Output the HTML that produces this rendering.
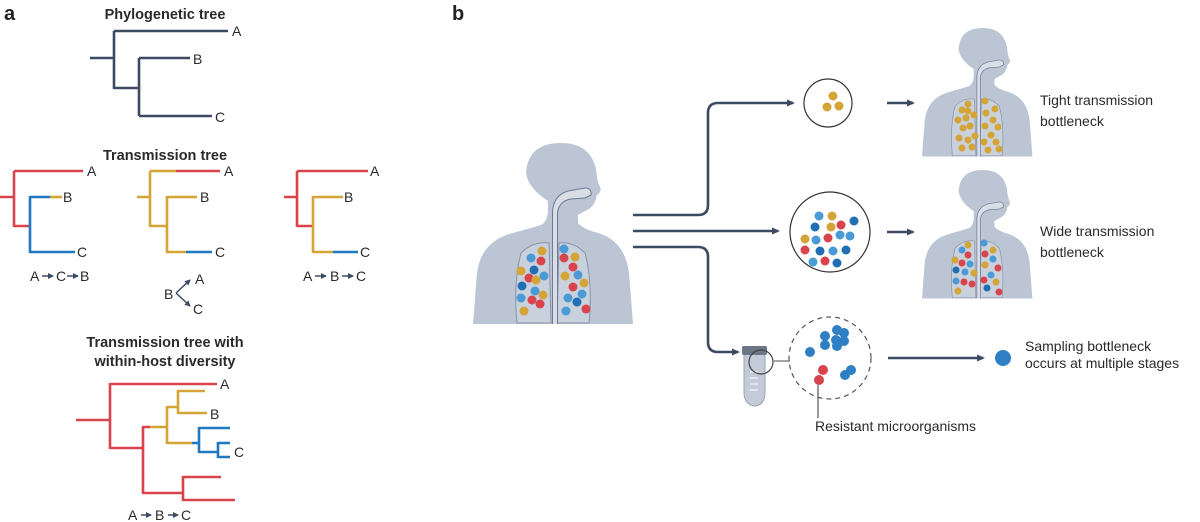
<!DOCTYPE html>
<html><head><meta charset="utf-8"><style>
html,body{margin:0;padding:0;background:#fff;}
svg{display:block;font-family:"Liberation Sans",sans-serif;}
.t{font-size:14px;fill:#2a2a2a;}
.h{font-size:14.5px;font-weight:bold;fill:#2a2a2a;}
.n{fill:none;stroke-width:2.6;stroke-linecap:butt;}
</style></head><body>
<svg width="1200" height="522" viewBox="0 0 1200 522">
<defs>
<marker id="ar" markerWidth="8" markerHeight="8" refX="6" refY="4" orient="auto" markerUnits="userSpaceOnUse"><path d="M0,0.5 L8,4 L0,7.5 Z" fill="#3d4a63"/></marker>
<marker id="as" markerWidth="6" markerHeight="6" refX="5" refY="3" orient="auto" markerUnits="userSpaceOnUse"><path d="M0,0 L6,3 L0,6 Z" fill="#3d4a63"/></marker>
<g id="person">
<path d="M0,181 L4,130 Q8,98 40,90 L68,82 Q75,78 75,66 L75,58 Q55,45 53,30 Q55,0 88,0 Q122,0 124,35 L126,42 Q130,48 124,52 Q122,62 116,66 Q108,70 105,72 L105,80 Q110,86 125,90 Q152,98 156,130 L160,181 Z" fill="#bcc5d3"/>
<path d="M44,180 Q40,140 48,110 Q60,98 76,100 L78,180 Z" fill="#c9d1dc" stroke="#8793a8" stroke-width="1"/>
<path d="M116,180 Q120,140 112,110 Q100,98 86,100 L84,180 Z" fill="#c9d1dc" stroke="#8793a8" stroke-width="1"/>
<path d="M79.5,181 L79.5,68 Q81,52 95,48 L112,45 Q119,45 118,52 L112,55 L98,56 Q86,58 84.5,70 L84.5,181" fill="#d8dde6" stroke="#6d7a92" stroke-width="1"/>
</g>
</defs>
<rect width="1200" height="522" fill="#fff"/>
<!-- panel a -->
<text x="4" y="20" style="font-size:20px;font-weight:bold" fill="#222">a</text>
<text x="165" y="19" class="h" text-anchor="middle">Phylogenetic tree</text>
<g class="n" stroke="#3d4a63">
<path d="M90,58 H114 M114,31 V89 M114,31 H228 M114,88 H139 M139,58 V116 M139,58 H190 M139,116 H212"/>
</g>
<text x="232" y="36" class="t">A</text><text x="193" y="64" class="t">B</text><text x="215" y="122" class="t">C</text>

<text x="165" y="160" class="h" text-anchor="middle">Transmission tree</text>
<!-- tree 1 -->
<g class="n">
<path stroke="#d9434b" d="M0,197 H14 M14,171 V227 M14,171 H83 M14,226 H30"/>
<path stroke="#1f78c1" d="M30,196 V253 M30,197 H50 M30,252 H75"/>
<path stroke="#d4a437" d="M50,197 H62"/>
</g>
<text x="87" y="176" class="t">A</text><text x="63" y="202" class="t">B</text><text x="77" y="257" class="t">C</text>
<text x="30" y="281" class="t">A</text><text x="56" y="281" class="t">C</text><text x="80" y="281" class="t">B</text>
<path d="M42,276 H53" stroke="#3d4a63" stroke-width="1.5" marker-end="url(#as)"/>
<path d="M67,276 H78" stroke="#3d4a63" stroke-width="1.5" marker-end="url(#as)"/>
<!-- tree 2 -->
<g class="n">
<path stroke="#d4a437" d="M137,197 H150 M150,171 V227 M150,171 H176 M150,226 H167 M167,196 V253 M167,197 H197 M167,252 H186"/>
<path stroke="#d9434b" d="M176,171 H220"/>
<path stroke="#1f78c1" d="M186,252 H212"/>
</g>
<text x="224" y="176" class="t">A</text><text x="200" y="202" class="t">B</text><text x="215" y="257" class="t">C</text>
<text x="164" y="299" class="t">B</text><text x="195" y="284" class="t">A</text><text x="193" y="314" class="t">C</text>
<path d="M176,293 L190,280" stroke="#3d4a63" stroke-width="1.5" fill="none" marker-end="url(#as)"/>
<path d="M176,293 L190,306" stroke="#3d4a63" stroke-width="1.5" fill="none" marker-end="url(#as)"/>
<!-- tree 3 -->
<g class="n">
<path stroke="#d9434b" d="M284,197 H297 M297,171 V227 M297,171 H368 M297,226 H313"/>
<path stroke="#d4a437" d="M313,196 V253 M313,197 H343 M313,252 H333"/>
<path stroke="#1f78c1" d="M333,252 H358"/>
</g>
<text x="370" y="176" class="t">A</text><text x="344" y="202" class="t">B</text><text x="360" y="257" class="t">C</text>
<text x="303" y="281" class="t">A</text><text x="330" y="281" class="t">B</text><text x="356" y="281" class="t">C</text>
<path d="M315,276 H326" stroke="#3d4a63" stroke-width="1.5" marker-end="url(#as)"/>
<path d="M342,276 H353" stroke="#3d4a63" stroke-width="1.5" marker-end="url(#as)"/>

<text x="165" y="347" class="h" text-anchor="middle">Transmission tree with</text>
<text x="165" y="366" class="h" text-anchor="middle">within-host diversity</text>
<g class="n">
<path stroke="#d9434b" d="M76,420 H110 M110,383 V449 M110,384 H217 M110,448 H143 M143,426 V494 M143,427 H150 M143,493 H183 M183,476 V501 M183,477 H221 M183,500 H235"/>
<path stroke="#d4a437" d="M150,427 H167 M167,406 V444 M167,407 H178 M178,390 V414 M178,391 H205 M178,413 H207 M167,443 H192"/>
<path stroke="#1f78c1" d="M192,443 H199 M199,427 V453 M199,428 H230 M199,452 H218 M218,442 V458 M218,443 H230 M218,457 H230"/>
</g>
<text x="220" y="389" class="t">A</text><text x="210" y="419" class="t">B</text><text x="234" y="457" class="t">C</text>
<text x="128" y="520" class="t">A</text><text x="155" y="520" class="t">B</text><text x="181" y="520" class="t">C</text>
<path d="M141,515 H151" stroke="#3d4a63" stroke-width="1.5" marker-end="url(#as)"/>
<path d="M168,515 H178" stroke="#3d4a63" stroke-width="1.5" marker-end="url(#as)"/>

<!-- panel b -->
<text x="452" y="20" style="font-size:20px;font-weight:bold" fill="#222">b</text>
<use href="#person" transform="translate(473,143)"/>
<g>
<circle cx="521" cy="271" r="4.5" fill="#d4a437"/><circle cx="531" cy="258" r="4.5" fill="#4a9ad6"/><circle cx="542" cy="251" r="4.5" fill="#d4a437"/><circle cx="541" cy="261" r="4.5" fill="#d9434b"/><circle cx="534" cy="270" r="4.5" fill="#1f6fb2"/><circle cx="529" cy="278" r="4.5" fill="#d9434b"/><circle cx="536" cy="280" r="4.5" fill="#d4a437"/><circle cx="544" cy="276" r="4.5" fill="#4a9ad6"/><circle cx="522" cy="286" r="4.5" fill="#1f6fb2"/><circle cx="535" cy="291" r="4.5" fill="#4a9ad6"/><circle cx="543" cy="295" r="4.5" fill="#d4a437"/><circle cx="521" cy="298" r="4.5" fill="#4a9ad6"/><circle cx="532" cy="300" r="4.5" fill="#d9434b"/><circle cx="540" cy="304" r="4.5" fill="#d9434b"/><circle cx="524" cy="311" r="4.5" fill="#d4a437"/>
<circle cx="564" cy="249" r="4.5" fill="#4a9ad6"/><circle cx="564" cy="258" r="4.5" fill="#d9434b"/><circle cx="575" cy="257" r="4.5" fill="#d4a437"/><circle cx="573" cy="267" r="4.5" fill="#d9434b"/><circle cx="565" cy="276" r="4.5" fill="#d4a437"/><circle cx="578" cy="275" r="4.5" fill="#4a9ad6"/><circle cx="573" cy="287" r="4.5" fill="#d9434b"/><circle cx="584" cy="283" r="4.5" fill="#d4a437"/><circle cx="582" cy="294" r="4.5" fill="#4a9ad6"/><circle cx="568" cy="298" r="4.5" fill="#4a9ad6"/><circle cx="577" cy="302" r="4.5" fill="#1f6fb2"/><circle cx="566" cy="311" r="4.5" fill="#4a9ad6"/><circle cx="586" cy="309" r="4.5" fill="#d9434b"/>
</g>
<g fill="none" stroke="#3d4a63" stroke-width="2.6">
<path d="M633,215 H698 Q708,215 708,205 V113 Q708,103 718,103 H793" marker-end="url(#ar)"/>
<path d="M633,231 H778" marker-end="url(#ar)"/>
<path d="M633,247 H698 Q708,247 708,257 V342 Q708,352 718,352 H738" marker-end="url(#ar)"/>
<path d="M887,103 H913" marker-end="url(#ar)"/>
<path d="M887,232 H913" marker-end="url(#ar)"/>
<path d="M888,358 H983" marker-end="url(#ar)"/>
</g>
<circle cx="828" cy="103" r="24" fill="#fff" stroke="#333" stroke-width="1.2"/>
<circle cx="833" cy="96" r="4.5" fill="#d4a437"/><circle cx="827" cy="107" r="4.5" fill="#d4a437"/><circle cx="839" cy="106" r="4.5" fill="#d4a437"/>
<circle cx="830" cy="232" r="40" fill="#fff" stroke="#333" stroke-width="1.2"/>
<g>
<circle cx="819" cy="216" r="4.5" fill="#4a9ad6"/><circle cx="832" cy="216" r="4.5" fill="#d4a437"/><circle cx="854" cy="221" r="4.5" fill="#1f6fb2"/><circle cx="815" cy="227" r="4.5" fill="#1f6fb2"/><circle cx="831" cy="227" r="4.5" fill="#d4a437"/><circle cx="841" cy="225" r="4.5" fill="#d9434b"/><circle cx="805" cy="239" r="4.5" fill="#d4a437"/><circle cx="816" cy="240" r="4.5" fill="#4a9ad6"/><circle cx="828" cy="238" r="4.5" fill="#d9434b"/><circle cx="840" cy="235" r="4.5" fill="#4a9ad6"/><circle cx="850" cy="236" r="4.5" fill="#4a9ad6"/><circle cx="805" cy="250" r="4.5" fill="#d9434b"/><circle cx="820" cy="251" r="4.5" fill="#1f6fb2"/><circle cx="833" cy="251" r="4.5" fill="#4a9ad6"/><circle cx="846" cy="250" r="4.5" fill="#1f6fb2"/><circle cx="813" cy="262" r="4.5" fill="#4a9ad6"/><circle cx="825" cy="261" r="4.5" fill="#d9434b"/><circle cx="837" cy="263" r="4.5" fill="#1f6fb2"/>
</g>
<use href="#person" transform="translate(922,28) scale(0.69,0.71)"/>
<g fill="#d4a437">
<circle cx="962" cy="110" r="3.5"/><circle cx="968" cy="104" r="3.5"/><circle cx="958" cy="120" r="3.5"/><circle cx="966" cy="118" r="3.5"/><circle cx="974" cy="115" r="3.5"/><circle cx="963" cy="128" r="3.5"/><circle cx="970" cy="126" r="3.5"/><circle cx="959" cy="138" r="3.5"/><circle cx="968" cy="140" r="3.5"/><circle cx="975" cy="136" r="3.5"/><circle cx="962" cy="148" r="3.5"/><circle cx="972" cy="147" r="3.5"/><circle cx="968" cy="111" r="3.5"/>
<circle cx="985" cy="101" r="3.5"/><circle cx="995" cy="109" r="3.5"/><circle cx="986" cy="113" r="3.5"/><circle cx="993" cy="120" r="3.5"/><circle cx="985" cy="126" r="3.5"/><circle cx="998" cy="127" r="3.5"/><circle cx="991" cy="135" r="3.5"/><circle cx="984" cy="142" r="3.5"/><circle cx="996" cy="142" r="3.5"/><circle cx="988" cy="150" r="3.5"/><circle cx="999" cy="149" r="3.5"/>
</g>
<use href="#person" transform="translate(922,170) scale(0.69,0.71)"/>
<g>
<circle cx="962" cy="250" r="3.5" fill="#4a9ad6"/><circle cx="968" cy="245" r="3.5" fill="#d4a437"/><circle cx="968" cy="255" r="3.5" fill="#d9434b"/><circle cx="955" cy="260" r="3.5" fill="#d4a437"/><circle cx="962" cy="263" r="3.5" fill="#d9434b"/><circle cx="970" cy="264" r="3.5" fill="#4a9ad6"/><circle cx="956" cy="270" r="3.5" fill="#1f6fb2"/><circle cx="965" cy="272" r="3.5" fill="#4a9ad6"/><circle cx="974" cy="273" r="3.5" fill="#d4a437"/><circle cx="956" cy="281" r="3.5" fill="#4a9ad6"/><circle cx="964" cy="282" r="3.5" fill="#d9434b"/><circle cx="972" cy="284" r="3.5" fill="#d9434b"/><circle cx="958" cy="291" r="3.5" fill="#d4a437"/>
<circle cx="984" cy="243" r="3.5" fill="#4a9ad6"/><circle cx="993" cy="250" r="3.5" fill="#d4a437"/><circle cx="985" cy="254" r="3.5" fill="#d9434b"/><circle cx="993" cy="259" r="3.5" fill="#4a9ad6"/><circle cx="985" cy="265" r="3.5" fill="#d4a437"/><circle cx="998" cy="268" r="3.5" fill="#d9434b"/><circle cx="991" cy="275" r="3.5" fill="#4a9ad6"/><circle cx="984" cy="280" r="3.5" fill="#d9434b"/><circle cx="996" cy="282" r="3.5" fill="#d4a437"/><circle cx="987" cy="288" r="3.5" fill="#1f6fb2"/><circle cx="999" cy="292" r="3.5" fill="#d9434b"/>
</g>
<text x="1040" y="105" class="t">Tight transmission</text>
<text x="1040" y="126" class="t">bottleneck</text>
<text x="1040" y="236" class="t">Wide transmission</text>
<text x="1040" y="257" class="t">bottleneck</text>
<path d="M744,352 H765 V392 Q765,405 755,406 Q744,405 744,392 Z" fill="#c3cbd8" stroke="#9aa4b5" stroke-width="1"/>
<rect x="742" y="346" width="25" height="9" rx="2" fill="#6d7687"/>
<g stroke="#fff" stroke-width="1"><path d="M750,372 H758 M750,378 H758 M750,384 H758 M750,390 H758"/></g>
<circle cx="761" cy="362" r="12" fill="none" stroke="#444" stroke-width="1.2"/>
<path d="M773,361 H790" stroke="#888" stroke-width="1.5"/>
<circle cx="830" cy="358" r="41" fill="none" stroke="#555" stroke-width="1.2" stroke-dasharray="5,4"/>
<g fill="#2f7fc4">
<circle cx="825" cy="336" r="5"/><circle cx="825" cy="345" r="5"/><circle cx="837" cy="330" r="5"/><circle cx="844" cy="333" r="5"/><circle cx="836" cy="340" r="5"/><circle cx="844" cy="341" r="5"/><circle cx="837" cy="346" r="5"/><circle cx="810" cy="352" r="5"/><circle cx="851" cy="370" r="5"/><circle cx="845" cy="375" r="5"/>
</g>
<circle cx="823" cy="370" r="5" fill="#d9434b"/><circle cx="819" cy="380" r="5" fill="#d9434b"/>
<path d="M818,385 V418" stroke="#555" stroke-width="1.2"/>
<text x="815" y="431" class="t">Resistant microorganisms</text>
<circle cx="1003" cy="358" r="8" fill="#2f7fc4"/>
<text x="1025" y="351" class="t">Sampling bottleneck</text>
<text x="1025" y="368" class="t">occurs at multiple stages</text>
</svg>
</body></html>
